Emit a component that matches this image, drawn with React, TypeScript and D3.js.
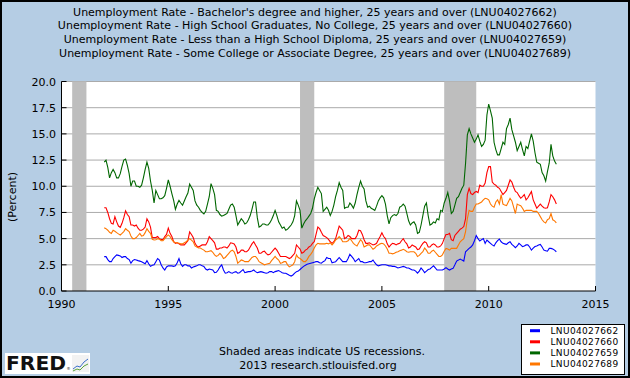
import React from 'react';
import * as d3 from 'd3';

const TITLES = [
  "Unemployment Rate - Bachelor's degree and higher, 25 years and over (LNU04027662)",
  'Unemployment Rate - High School Graduates, No College, 25 years and over (LNU04027660)',
  'Unemployment Rate - Less than a High School Diploma, 25 years and over (LNU04027659)',
  'Unemployment Rate - Some College or Associate Degree, 25 years and over (LNU04027689)',
];
const SERIES_IDS = ['LNU04027662', 'LNU04027660', 'LNU04027659', 'LNU04027689'];
const SERIES_COLORS = ['#0000ff', '#ff0000', '#006600', '#ff7700'];
const START_YEAR = 1992; // monthly, Jan 1992 onward

const bachelors = [
  3.28, 3.28, 3.0, 2.8, 2.8, 3.1, 3.28, 3.45, 3.4, 3.35, 3.2, 3.28,
  3.28, 3.1, 3.0, 2.65, 2.9, 3.0, 2.96, 2.9, 2.85, 2.8, 2.7, 2.6,
  2.9, 2.6, 2.35, 2.45, 2.5, 2.8, 3.1, 2.96, 2.5, 2.2, 2.0, 2.3,
  2.4, 2.4, 2.4, 2.35, 2.4, 2.7, 3.1, 2.6, 2.35, 2.5, 2.5, 2.4,
  2.4, 2.2, 2.3, 2.35, 2.4, 2.5, 2.5, 2.4, 2.35, 2.1, 2.0, 2.1,
  2.05, 2.0, 1.75, 1.78, 2.0, 2.3, 2.5, 2.0, 1.7, 1.75, 1.85, 1.75,
  1.7, 1.8, 1.85, 1.7, 1.75, 1.9, 2.05, 1.75, 1.8, 1.85, 1.85, 1.9,
  2.0, 1.85, 1.75, 1.8, 1.85, 1.8, 1.75, 1.7, 1.75, 1.85, 1.85, 1.75,
  1.85, 1.9, 1.95, 1.85, 1.75, 1.7, 1.7, 1.6, 1.5, 1.43, 1.53, 1.7,
  1.85, 1.9, 2.05, 2.2, 2.35, 2.45, 2.55, 2.6, 2.65, 2.7, 2.75, 2.8,
  2.8, 2.7, 2.65, 2.8, 2.9, 3.2, 3.1, 3.1, 2.7, 2.75, 2.8, 3.0,
  3.2, 3.0, 2.8, 2.8, 2.8, 3.1, 3.5, 3.3, 3.1, 2.8, 2.95, 3.1,
  2.8, 2.8, 2.7, 2.7, 2.75, 2.8, 2.8, 2.96, 2.7, 2.5, 2.4, 2.45,
  2.5, 2.5, 2.5, 2.45, 2.4, 2.4, 2.35, 2.35, 2.3, 2.2, 2.25, 2.3,
  2.35, 2.3, 2.2, 2.2, 2.1, 2.0, 2.0, 1.9, 1.7, 1.9, 2.2, 2.0,
  1.75, 1.9, 2.05, 2.1, 2.25, 2.4, 2.2, 2.0, 2.0, 2.0, 2.0, 2.1,
  2.23, 2.1, 2.0, 2.1, 2.16, 2.5, 2.86, 2.95, 3.05, 2.95, 2.86, 3.75,
  3.9, 4.07, 4.2, 4.4, 4.8, 5.3, 5.0, 4.77, 4.9, 5.0, 4.55, 4.86,
  4.7, 4.55, 4.4, 4.3, 4.6, 4.8, 4.96, 4.7, 4.55, 4.5, 4.45, 4.6,
  4.7, 4.45, 4.3, 4.13, 4.3, 4.55, 4.4, 4.24, 4.3, 4.4, 4.4, 4.2,
  3.9, 4.1, 4.24, 4.3, 4.4, 4.45, 4.2, 3.9, 3.85, 3.8, 4.07, 4.07,
  4.0, 3.9, 3.75,
];

const highSchool = [
  7.95, 7.95, 7.5, 6.9, 6.46, 6.4, 7.1, 6.6, 6.2, 6.08, 6.46, 7.0,
  7.65, 7.3, 7.1, 6.3, 6.3, 6.2, 6.3, 6.0, 5.8, 5.8, 5.9, 6.1,
  6.9, 6.6, 6.1, 5.1, 5.1, 5.1, 5.2, 5.0, 4.9, 4.9, 5.2, 5.4,
  6.0, 5.5, 5.2, 4.7, 4.55, 4.6, 4.5, 4.4, 4.4, 4.4, 4.6, 4.8,
  5.65, 5.4, 5.1, 4.55, 4.3, 4.2, 4.3, 4.4, 4.4, 4.4, 4.7, 5.2,
  5.0, 4.8, 4.6, 4.0, 4.0, 4.1, 4.1, 4.2, 4.2, 4.1, 4.3, 4.6,
  4.55, 4.5, 4.2, 3.6, 3.7, 3.9, 3.9, 3.75, 3.75, 3.9, 4.2, 4.5,
  4.7, 4.4, 4.1, 3.6, 3.6, 3.75, 3.8, 3.6, 3.45, 3.5, 3.7, 3.9,
  4.1, 3.9, 3.6, 3.3, 3.3, 3.3, 3.3, 3.2, 3.1, 3.2, 3.4, 3.6,
  4.4, 4.2, 4.0, 3.6, 3.7, 3.9, 4.0, 4.2, 4.3, 4.55, 4.7, 5.4,
  6.1, 5.95, 5.6, 5.3, 5.2, 5.1, 4.93, 4.7, 4.55, 4.7, 5.0, 5.6,
  6.2, 6.0, 5.8, 5.0, 5.1, 5.3, 5.2, 5.0, 5.0, 5.0, 5.3, 5.8,
  5.75, 5.4, 4.9, 4.55, 4.55, 4.6, 4.5, 4.4, 4.45, 4.55, 4.9, 5.2,
  5.55, 5.2, 5.0, 4.5, 4.2, 4.4, 4.55, 4.5, 4.4, 4.5, 4.55, 4.8,
  5.0, 4.7, 4.5, 4.1, 4.2, 4.4, 4.3, 4.2, 3.95, 4.0, 4.3, 4.55,
  4.7, 4.6, 4.2, 4.2, 4.4, 4.5, 4.4, 4.2, 4.2, 4.3, 4.55, 5.0,
  5.4, 5.4, 5.5, 4.9, 4.8, 5.3, 5.5, 5.7, 5.9, 6.0, 6.15, 6.9,
  9.2, 9.8, 9.3, 9.2, 9.4, 9.5, 9.4, 10.1, 10.0, 10.0, 10.3, 11.3,
  11.87, 11.87, 10.4, 10.2, 10.1, 9.9, 9.8, 9.5, 9.2, 9.4, 9.6, 10.1,
  10.6, 10.4, 9.9, 9.5, 9.4, 9.1, 8.85, 9.0, 9.2, 8.7, 8.9, 9.2,
  9.5, 8.7, 8.3, 7.9, 8.1, 8.3, 8.1, 7.95, 7.9, 7.95, 8.5, 9.2,
  9.0, 8.7, 8.3,
];

const lessThanHS = [
  12.3, 12.5, 11.8, 10.8, 11.3, 11.6, 11.3, 10.8, 10.8, 11.2, 11.9, 12.5,
  12.6, 12.0, 11.2, 10.0, 10.5, 10.5, 10.0, 10.0, 9.9, 10.1, 10.8, 11.6,
  12.3, 11.7, 10.5, 9.6, 8.4, 9.6, 9.2, 8.8, 8.8, 8.9, 9.1, 9.8,
  10.6, 10.0, 9.3, 8.65, 7.8, 8.3, 8.65, 8.4, 8.2, 8.6, 9.0, 9.35,
  10.2, 9.9, 9.6, 8.6, 8.2, 8.0, 7.7, 7.5, 7.35, 7.6, 8.3, 9.0,
  10.25, 9.8, 9.2, 7.7, 7.6, 7.3, 7.15, 7.2, 7.3, 7.4, 7.8, 8.2,
  8.3, 8.0, 7.2, 6.3, 6.6, 6.9, 6.7, 6.4, 6.5, 6.8, 7.2, 7.8,
  8.5, 8.5, 7.0, 6.1, 6.2, 6.4, 6.4, 6.3, 6.3, 6.5, 6.8, 7.2,
  7.7, 7.2, 6.6, 6.3, 6.0, 6.1, 5.8, 5.9, 6.1, 6.3, 6.6, 7.2,
  8.6, 8.2, 7.7, 6.0, 6.4, 6.7, 6.9, 7.15, 7.4, 7.9, 8.8, 9.4,
  9.9, 9.6, 9.3, 7.6, 7.8, 8.0, 7.7, 7.2, 7.6, 8.2, 9.0, 9.6,
  10.35, 9.9, 9.6, 7.9, 8.0, 8.0, 8.4, 8.2, 7.9, 8.4, 9.2, 9.9,
  10.5, 10.0, 9.75, 8.6, 8.0, 8.1, 7.9, 7.8, 7.7, 8.1, 8.6, 8.9,
  9.1, 8.9, 8.3, 7.2, 6.4, 7.0, 7.2, 7.3, 7.2, 7.4, 8.0, 8.1,
  8.3, 8.1, 7.4, 6.7, 6.3, 6.5, 6.6, 6.3, 5.5, 5.6, 6.3, 7.2,
  8.1, 8.4, 7.2, 6.3, 6.4, 6.6, 6.5, 6.9, 6.8, 7.7, 7.6, 8.4,
  8.85, 9.4, 8.6, 7.4, 7.6, 8.2, 8.85, 9.0, 9.4, 9.8, 10.1, 12.2,
  14.9, 15.5, 15.0, 14.6, 14.2, 14.5, 14.9, 14.3, 13.8, 14.0, 14.4, 16.8,
  17.85, 17.2, 16.5, 14.2, 13.5, 13.0, 13.0, 13.6, 14.2, 14.0, 15.5, 15.9,
  16.5, 15.4, 14.8, 14.2, 13.4, 13.8, 14.2, 13.5, 12.9, 13.8, 13.6, 14.3,
  15.0, 14.3, 13.2, 12.3, 12.2, 12.1, 11.3, 11.0, 10.5, 11.4, 12.2, 14.0,
  12.9, 12.4, 12.1,
];

const someCollege = [
  6.04, 5.95, 5.8, 5.6, 5.5, 5.8, 5.7, 5.57, 5.45, 5.35, 5.5, 5.67,
  5.95, 5.8, 5.67, 5.25, 5.0, 5.0, 5.1, 5.3, 5.5, 5.25, 5.3, 5.57,
  5.95, 5.7, 5.5, 4.93, 4.87, 4.9, 5.0, 4.95, 4.8, 4.8, 5.0, 5.2,
  5.35, 5.2, 4.9, 4.7, 4.6, 4.6, 4.55, 4.5, 4.5, 4.6, 4.7, 4.85,
  5.0, 4.85, 4.7, 4.3, 4.2, 4.1, 4.1, 4.0, 3.9, 3.75, 3.75, 3.8,
  3.85, 3.7, 3.45, 3.3, 3.4, 3.6, 3.4, 3.1, 3.2, 3.4, 3.6, 3.8,
  3.9, 3.75, 3.3, 2.65, 2.8, 2.96, 2.9, 2.8, 2.8, 2.8, 3.0, 3.2,
  3.3, 3.3, 3.1, 2.8, 2.7, 2.6, 2.5, 2.55, 2.6, 2.65, 2.9, 3.1,
  3.3, 3.1, 2.96, 2.65, 2.7, 2.8, 2.8, 2.5, 2.3, 2.4, 2.5, 2.8,
  3.45, 3.2, 3.1, 2.96, 2.8, 2.8, 3.0, 3.3, 3.5, 3.75, 4.1, 4.4,
  4.55, 4.5, 4.5, 4.5, 4.5, 4.55, 4.5, 4.6, 4.4, 4.6, 4.87, 5.0,
  5.2, 5.0, 4.7, 4.7, 4.7, 4.8, 5.0, 4.8, 4.55, 4.4, 4.3, 4.6,
  4.9, 4.7, 4.2, 4.3, 4.4, 4.4, 4.2, 3.98, 4.1, 4.3, 4.4, 4.5,
  4.55, 4.5, 4.3, 4.0, 3.6, 3.6, 3.55, 3.6, 3.7, 3.75, 3.85, 3.9,
  3.98, 3.9, 3.75, 3.7, 3.75, 3.75, 3.75, 3.6, 3.3, 3.4, 3.6, 3.75,
  4.1, 3.9, 3.6, 3.6, 3.8, 3.9, 3.7, 3.5, 3.3, 3.3, 3.45, 3.8,
  4.07, 4.0, 3.9, 4.07, 4.07, 4.07, 4.07, 4.4, 4.7, 4.85, 5.0, 5.66,
  6.9, 7.7, 7.6, 7.6, 8.0, 8.3, 8.3, 8.4, 8.5, 8.7, 8.85, 8.8,
  8.7, 8.3, 8.1, 8.0, 8.5, 8.7, 8.3, 9.2, 8.3, 8.2, 8.15, 8.5,
  8.85, 8.6, 8.0, 7.4, 8.3, 8.2, 8.15, 7.9, 7.6, 7.7, 7.7, 7.7,
  7.7, 7.6, 7.6, 7.6, 7.4, 7.1, 6.8, 6.6, 6.5, 6.8, 6.9, 7.4,
  6.8, 6.7, 6.5,
];

const SERIES_VALUES = [bachelors, highSchool, lessThanHS, someCollege];
const RECESSIONS = [
  [1990.5, 1991.167],
  [2001.167, 2001.833],
  [2007.917, 2009.417],
];
const X_TICKS = [1990, 1995, 2000, 2005, 2010, 2015];
const Y_TICKS = [0, 2.5, 5, 7.5, 10, 12.5, 15, 17.5, 20];
const FOOTNOTES = ['Shaded areas indicate US recessions.', '2013 research.stlouisfed.org'];

const W = 630;
const H = 378;
const FONT = 'DejaVu Sans, Verdana, sans-serif';

export default function App() {
  const x = d3.scaleLinear().domain([1990, 2015]).range([61.5, 595.5]);
  const y = d3.scaleLinear().domain([0, 20]).range([291, 81.5]);
  const line = d3
    .line<number>()
    .x((_, i) => x(START_YEAR + i / 12))
    .y((d) => y(d));

  return (
    <div style={{ position: 'fixed', left: 0, top: 0 }}>
      <svg width={W} height={H} style={{ display: 'block' }}>
        <rect x={1} y={1} width={W - 2} height={H - 2} fill="#b5cde4" stroke="#000" strokeWidth={2} />
        {TITLES.map((t, i) => (
          <text key={i} x={315} y={15.5 + i * 13.7} textAnchor="middle" fontFamily={FONT} fontSize={11} fill="#000">
            {t}
          </text>
        ))}
        <rect x={x(1990)} y={y(20)} width={x(2015) - x(1990)} height={y(0) - y(20)} fill="#fff" />
        {Y_TICKS.filter((v) => v > 0).map((v) => (
          <line key={v} x1={x(1990)} x2={x(2015)} y1={y(v)} y2={y(v)} stroke="#aaa" strokeWidth={1} />
        ))}
        {RECESSIONS.map(([a, b], i) => (
          <rect key={i} x={x(a)} y={y(20)} width={x(b) - x(a)} height={y(0) - y(20)} fill="#bebebe" />
        ))}
        {SERIES_VALUES.map((vals, i) => (
          <path key={i} d={line(vals) || ''} fill="none" stroke={SERIES_COLORS[i]} strokeWidth={1.1} />
        ))}
        <line x1={x(1990)} x2={x(1990)} y1={y(20)} y2={y(0)} stroke="#000" strokeWidth={1} />
        <line x1={x(1990)} x2={x(2015)} y1={y(0)} y2={y(0)} stroke="#000" strokeWidth={1} />
        {Y_TICKS.map((v) => (
          <g key={v}>
            <line x1={x(1990)} x2={x(1990) + 5} y1={y(v)} y2={y(v)} stroke="#000" />
            <text x={56} y={y(v) + 4} textAnchor="end" fontFamily={FONT} fontSize={11} fill="#000">
              {v.toFixed(1)}
            </text>
          </g>
        ))}
        {X_TICKS.map((t) => (
          <g key={t}>
            <line x1={x(t)} x2={x(t)} y1={y(0)} y2={y(0) - 5} stroke="#000" />
            <text x={x(t)} y={308} textAnchor="middle" fontFamily={FONT} fontSize={11} fill="#000">
              {t}
            </text>
          </g>
        ))}
        <text transform="translate(16,197) rotate(-90)" textAnchor="middle" fontFamily={FONT} fontSize={11} fill="#000">
          (Percent)
        </text>
        <g>
          <rect x={521.5} y={324.5} width={103} height={50} fill="#fff" stroke="#000" />
          {SERIES_IDS.map((id, i) => (
            <g key={id}>
              <line x1={530} x2={540} y1={330.7 + i * 11.1} y2={330.7 + i * 11.1} stroke={SERIES_COLORS[i]} strokeWidth={3} />
              <text x={550.5} y={334 + i * 11.1} fontFamily={FONT} fontSize={9} letterSpacing={0.35} fill="#000">
                {id}
              </text>
            </g>
          ))}
        </g>
        {FOOTNOTES.map((t, i) => (
          <text key={i} x={i === 0 ? 322 : 318} y={355 + i * 13.7} textAnchor="middle" fontFamily={FONT} fontSize={11} fill="#000">
            {t}
          </text>
        ))}
        <g>
          <rect x={5} y={353} width={85} height={21} fill="#fff" />
          <text x={6} y={370} fontFamily="DejaVu Sans, sans-serif" fontWeight="bold" fontSize={19} textLength={60} lengthAdjust="spacingAndGlyphs" fill="#111">
            FRED
          </text>
          <text x={66.5} y={370} fontFamily={FONT} fontSize={4} fill="#111">®</text>
          <rect x={72} y={355} width={17} height={17} fill="#f2f2f2" />
          <path d="M73,369 L77,366 L80,367 L84,362 L88,359" fill="none" stroke="#3a6fc9" strokeWidth={1} />
          <path d="M73,371 L77,369 L80,370 L84,366 L88,364" fill="none" stroke="#5aa33c" strokeWidth={1} />
        </g>
      </svg>
    </div>
  );
}
